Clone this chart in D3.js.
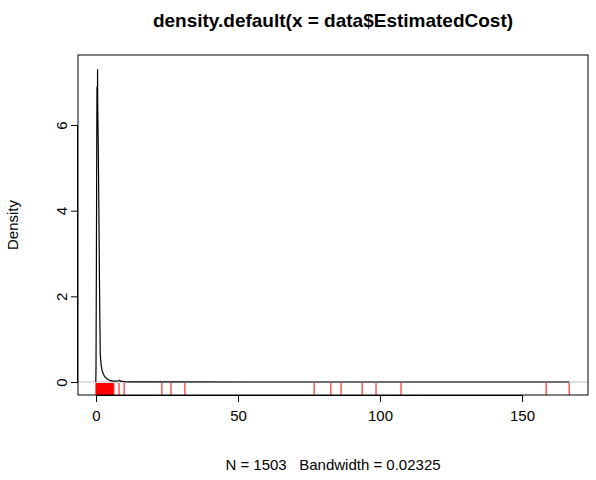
<!DOCTYPE html>
<html><head><meta charset="utf-8">
<script src="https://cdn.jsdelivr.net/npm/d3@7"></script>
<style>body{margin:0;background:#fff}text{font-family:"Liberation Sans",Arial,sans-serif}</style>
</head><body><div id="chart"></div>
<script>
// density curve
var densX = [-0.07,0.0,0.15,0.3,0.35,0.4,0.45,0.5,0.55,0.6,0.7,0.8,1.0,1.2,1.4,1.5,1.8,2.2,3,4,5,6,7,8,8.3,8.7,10,12,20,60,120,166.7];
var densY = [0,0.3,3.0,6.2,6.9,6.1,6.8,6.2,7.3,6.5,6.0,5.5,4.1,2.5,1.2,0.63,0.4,0.25,0.13,0.07,0.03,0.02,0.02,0.025,0.04,0.02,0.008,0.003,0.001,0.0005,0.0005,0];
// rug values
var rugVals = [];
for (var v = 0; v <= 6; v += 0.1) rugVals.push(v);
rugVals = rugVals.concat([6.3,8.1,9.9,23.2,26.4,31.3,76.8,82.7,86.3,93.7,98.6,107.4,158.5,166.6]);
var xTicks = [0,50,100,150];
var yTicks = [0,2,4,6];

var W = 596, H = 480;
var svg = d3.select("#chart").append("svg").attr("width", W).attr("height", H);
var x = d3.scaleLinear().domain([0,150]).range([96,522]);
var y = d3.scaleLinear().domain([0,6]).range([382,125]);
var L = 78, R = 588, T = 55, B = 395;

svg.append("line").attr("x1",L).attr("x2",R).attr("y1",y(0)).attr("y2",y(0)).attr("stroke","#bebebe");

svg.append("g").selectAll("line").data(rugVals).enter().append("line")
  .attr("x1",d=>x(d)).attr("x2",d=>x(d)).attr("y1",383).attr("y2",B)
  .attr("stroke","red").attr("stroke-width",1);

var line = d3.line().x((d,i)=>x(densX[i])).y(d=>y(d));
svg.append("path").datum(densY).attr("d",line).attr("fill","none").attr("stroke","black").attr("stroke-width",1.2);

svg.append("rect").attr("x",L).attr("y",T).attr("width",R-L).attr("height",B-T)
  .attr("fill","none").attr("stroke","black");

var xa = svg.append("g").attr("transform","translate(0,"+B+")")
  .call(d3.axisBottom(x).tickValues(xTicks).tickSize(7).tickPadding(8));
var ya = svg.append("g").attr("transform","translate("+L+",0)")
  .call(d3.axisLeft(y).tickValues(yTicks).tickFormat(d3.format("d")).tickSize(7));
[xa,ya].forEach(a=>{a.select(".domain").attr("stroke","black");
  a.selectAll("text").attr("font-size",15).attr("fill","black").attr("font-family","Liberation Sans, Arial");});
xa.select(".domain").attr("d","M"+x(0)+",0.5H"+x(150));
ya.select(".domain").attr("d","M-0.5,"+y(0)+"V"+y(6));
ya.selectAll(".tick text").attr("text-anchor","middle").attr("x",0).attr("y",0).attr("dy",0)
  .attr("transform","translate(-11,0) rotate(-90)");

svg.append("text").attr("x",333).attr("y",27).attr("text-anchor","middle")
  .attr("font-size",19).attr("font-weight","bold").text("density.default(x = data$EstimatedCost)");
svg.append("text").attr("x",333).attr("y",470).attr("text-anchor","middle").attr("xml:space","preserve")
  .style("white-space","pre").attr("font-size",15).text("N = 1503   Bandwidth = 0.02325");
svg.append("text").attr("transform","translate(18,225) rotate(-90)").attr("text-anchor","middle")
  .attr("font-size",15).text("Density");
</script></body></html>
